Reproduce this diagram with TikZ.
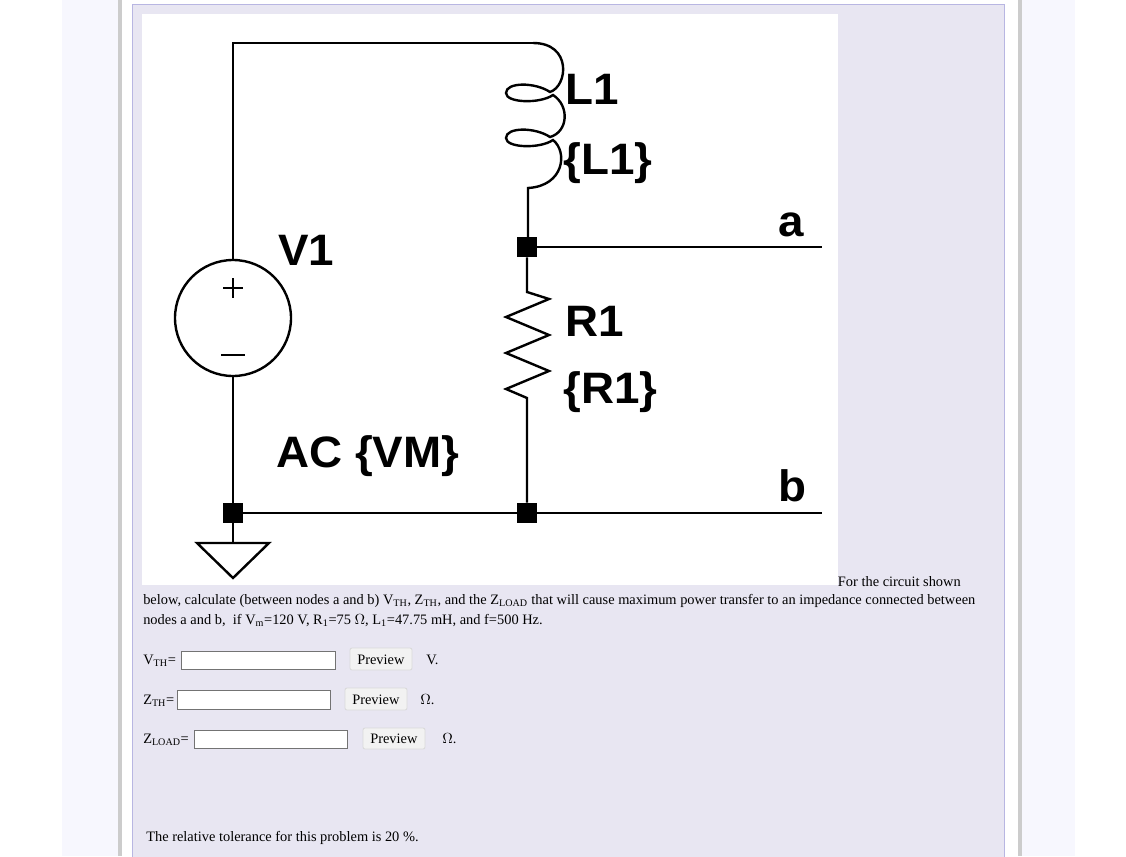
\documentclass[tikz,border=0pt]{standalone}
\usepackage{fontspec}
\setmainfont{Liberation Serif}
\newfontfamily\arialf{Liberation Sans}
\begin{document}
\begin{tikzpicture}[x=0.75pt,y=-0.75pt,
  wire/.style={line width=1.8pt,black},
  lbl/.style={font=\arialf\bfseries\fontsize{33}{35}\selectfont,anchor=base west,inner sep=0,xscale=1.04},
  txt/.style={font=\fontsize{10.8}{12}\selectfont,anchor=base west,inner sep=0},
  box/.style={draw=black!55,fill=white,line width=0.6pt},
  btn/.style={draw=black!15,fill=black!5,rounded corners=1.5pt,line width=0.6pt},
  jn/.style={fill=black,minimum size=15pt,inner sep=0}]
\useasboundingbox (0,0) rectangle (1126,856);
\fill[white] (0,0) rectangle (1126,856);
\definecolor{strip}{HTML}{F7F7FE}
\definecolor{panel}{HTML}{E8E6F2}
\definecolor{pborder}{HTML}{B8B6E2}
\fill[strip] (62,0) rectangle (118,856);
\fill[black!20] (118,0) rectangle (122,856);
\fill[black!20] (1018,0) rectangle (1022,856);
\fill[strip] (1022,0) rectangle (1075,856);
\filldraw[fill=panel,draw=pborder,line width=0.6pt] (132.5,4.5) rectangle (1004.5,870);
\fill[white] (142,14) rectangle (838,585);
% circuit
\coordinate (tl) at (233,43);
\coordinate (lt) at (533,43);
\node[jn] (ja) at (527,247) {};
\node[jn] (jb) at (527,513) {};
\node[jn] (jg) at (233,513) {};
\coordinate (ea) at (822,247);
\coordinate (eb) at (822,513);
\node[draw,circle,line width=1.8pt,minimum size=87pt,inner sep=0] (src) at (233,318) {};
\draw[wire] (src.north) -- (tl) -- (lt);
\draw[wire] (src.south) -- (jg);
\draw[wire] (jg) -- (jb) -- (eb);
\draw[wire] (ja) -- (ea);
\draw[wire] (233,278)--(233,298) (223,288)--(243,288) (221,355)--(245,355);
% ground
\draw[wire] (jg) -- (233,543);
\draw[wire,line join=miter] (197,543) -- (269,543) -- (233,578) -- cycle;
% inductor
\draw[wire] (lt) .. controls (572,43) and (568,86) .. (550,92)
  .. controls (535,82) and (506,82) .. (506,93) .. controls (506,103) and (540,104) .. (553,95)
  .. controls (570,106) and (568,132) .. (550,137)
  .. controls (535,127) and (506,127) .. (506,138) .. controls (506,148) and (540,149) .. (553,140)
  .. controls (568,152) and (564,186) .. (528,188) -- (528,247);
% resistor
\draw[wire,line join=miter] (ja) -- (527,292) -- (549,299) -- (506,317) -- (549,335) -- (506,353) -- (549,371) -- (506,389) -- (527,398) -- (jb);
% labels
\node[lbl] (l1) at (565,104) {L1};
\node[lbl] (l1v) at (563,174) {\{L1\}};
\node[lbl] (na) at (778,236) {a};
\node[lbl] (v1) at (278,265) {V1};
\node[lbl] (r1) at (565,336) {R1};
\node[lbl] (r1v) at (563,403) {\{R1\}};
\node[lbl] (ac) at (276,467) {AC \{VM\}};
\node[lbl] (nb) at (778,501) {b};
% text
\node[txt,anchor=base east] (t1) at (961,586) {For the circuit shown};
\node[txt] (t2) at (143,604) {below, calculate (between nodes a and b) V\textsubscript{TH}, Z\textsubscript{TH}, and the Z\textsubscript{LOAD} that will cause maximum power transfer to an impedance connected between};
\node[txt] (t3) at (143,624) {nodes a and b,\ \ if V\textsubscript{m}=120 V, R\textsubscript{1}=75 $\Omega$, L\textsubscript{1}=47.75 mH, and f=500 Hz.};
\node[txt] (q1) at (143,664) {V\textsubscript{TH}=};
\draw[box] (181,651) rectangle (335,669);
\draw[btn] (350,648) rectangle (412,670);
\node[txt] (p1) at (357,664) {Preview};
\node[txt] (u1) at (426,664) {V.};
\node[txt] (q2) at (143,704) {Z\textsubscript{TH}=};
\draw[box] (177,690) rectangle (330,709);
\draw[btn] (345,688) rectangle (407,710);
\node[txt] (p2) at (352,704) {Preview};
\node[txt] (u2) at (420,704) {$\Omega$.};
\node[txt] (q3) at (143,743) {Z\textsubscript{LOAD}=};
\draw[box] (194,730) rectangle (347,748);
\draw[btn] (363,728) rectangle (425,749);
\node[txt] (p3) at (370,743) {Preview};
\node[txt] (u3) at (442,743) {$\Omega$.};
\node[txt] (tol) at (146,841) {The relative tolerance for this problem is 20 \%.};
\end{tikzpicture}
\end{document}
